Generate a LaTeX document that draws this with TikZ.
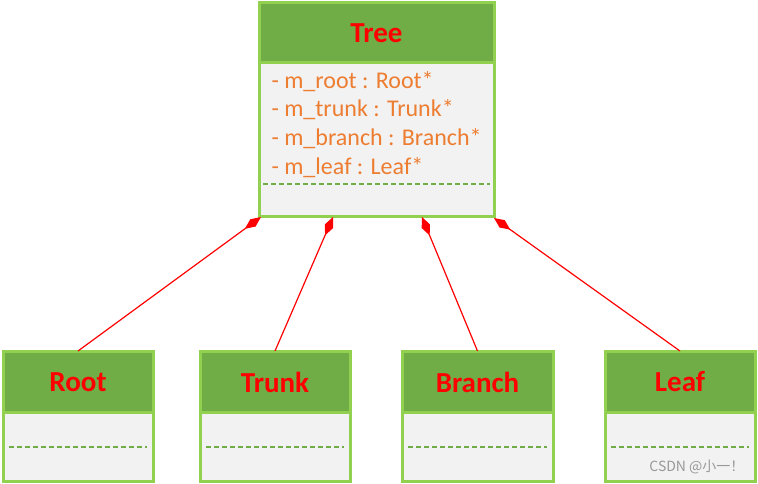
\documentclass[tikz,border=0pt]{standalone}
\usepackage{fontspec}
\setmainfont{Carlito}
\newfontfamily\cjk{Noto Sans CJK SC}
\usetikzlibrary{arrows.meta}
\definecolor{bord}{HTML}{92D050}
\definecolor{head}{HTML}{70AD47}
\definecolor{body}{HTML}{F2F2F2}
\definecolor{attr}{HTML}{ED7D31}
\tikzset{
  x=1pt,y=-1pt,
  boxbody/.style={draw=bord,fill=body,line width=3pt},
  boxhead/.style={draw=bord,fill=head,line width=3pt},
  title/.style={text=red,font=\bfseries\fontsize{29}{34}\selectfont},
  attrtxt/.style={text=attr,font=\fontsize{24}{28}\selectfont,anchor=west},
  sep/.style={draw=head,line width=2pt,dash pattern=on 5pt off 3pt},
  comp/.style={red,line width=1.2pt,{Diamond[length=20pt,width=9pt]}-}
}
\newcommand{\umlbox}[5]{% name, x1, x2, y1, title
  \draw[boxbody] (#2,#4) rectangle (#3,481);
  \draw[boxhead] (#2,#4) rectangle (#3,412);
  \node[title] (#1) at ({(#2+#3)/2},382) {#5};
  \draw[sep] ({#2+6},447) -- ({#3-6},447);
  \coordinate (#1top) at ({(#2+#3)/2},#4);
}
\begin{document}
\begin{tikzpicture}
\useasboundingbox (0,0) rectangle (758,484);
\draw[boxbody] (259,3) rectangle (494,216);
\draw[boxhead] (259,3) rectangle (494,63);
\node[title] (tree) at (376.5,33) {Tree};
\node[attrtxt] (a1) at (268,82) {- m\_root : Root*};
\node[attrtxt] (a2) at (268,110) {- m\_trunk : Trunk*};
\node[attrtxt] (a3) at (268,139) {- m\_branch : Branch*};
\node[attrtxt] (a4) at (268,168) {- m\_leaf : Leaf*};
\draw[sep] (263,184) -- (490,184);
\coordinate (t1) at (261,217);
\coordinate (t2) at (333,217);
\coordinate (t3) at (422,217);
\coordinate (t4) at (494,218);
\umlbox{root}{3}{153}{351}{Root}
\umlbox{trunk}{200}{350}{351}{Trunk}
\umlbox{branch}{402}{553}{351}{Branch}
\umlbox{leaf}{605}{755}{351}{Leaf}
\node[text=gray!80,font=\cjk\fontsize{14}{16}\selectfont,anchor=east] (wm) at (748,467) {CSDN @小一！};
\draw[comp] (t1) -- (roottop);
\draw[comp] (t2) -- (trunktop);
\draw[comp] (t3) -- (branchtop);
\draw[comp] (t4) -- (leaftop);
\end{tikzpicture}
\end{document}
